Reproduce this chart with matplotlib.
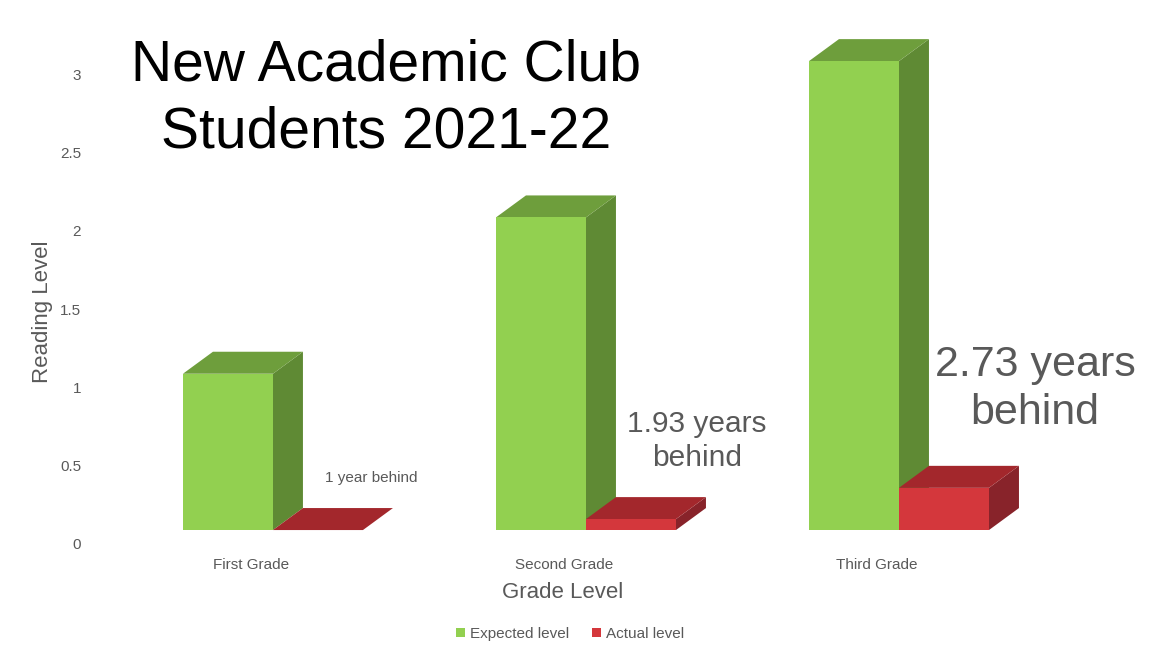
import matplotlib
matplotlib.use("Agg")
import matplotlib.pyplot as plt
from matplotlib.patches import Polygon, Patch

plt.rcParams['font.family'] = ['Liberation Sans', 'DejaVu Sans']

# data
grades = ["First Grade", "Second Grade", "Third Grade"]
expected = [1.0, 2.0, 3.0]
actual = [0.0, 0.07, 0.27]
gap_notes = ["1 year behind", "1.93 years\nbehind", "2.73 years\nbehind"]
gap_sizes = [11, 21.5, 31]
y_ticks = [0, 0.5, 1, 1.5, 2, 2.5, 3]

GRAY = "#595959"
GREEN = ("#92D050", "#6E9E3C", "#5F8A34")   # front, top, side
RED = ("#D4373C", "#A3272C", "#88232A")

W, H = 1150, 654
fig = plt.figure(figsize=(W / 100, H / 100), dpi=100)
ax = fig.add_axes([0, 0, 1, 1])
x0, x1 = -0.872, 2.802
y0, y1 = -0.697, 3.487
ax.set_xlim(x0, x1)
ax.set_ylim(y0, y1)
ax.axis("off")

sx = W / (x1 - x0)
sy = H / (y1 - y0)


def px(dx, dy):
    # pixel offsets -> data units
    return dx / sx, dy / sy


floor = px(0, 15)[1]
ddx, ddy = px(30, 22)
bw = px(90, 0)[0]


def box(xl, h, cols):
    b = floor
    front, top, side = cols
    if h > 0:
        ax.add_patch(Polygon([(xl + bw, b), (xl + bw + ddx, b + ddy),
                              (xl + bw + ddx, b + h + ddy), (xl + bw, b + h)],
                             closed=True, fc=side, ec="none"))
    ax.add_patch(Polygon([(xl, b + h), (xl + bw, b + h), (xl + bw + ddx, b + h + ddy),
                          (xl + ddx, b + h + ddy)], closed=True, fc=top, ec="none"))
    if h > 0:
        ax.add_patch(Polygon([(xl, b), (xl + bw, b), (xl + bw, b + h), (xl, b + h)],
                             closed=True, fc=front, ec="none"))


for i, g in enumerate(grades):
    box(i - bw, expected[i], GREEN)
    box(i, actual[i], RED)
    ax.text(i - px(22, 0)[0], -0.128, g, ha="center", va="center",
            fontsize=11, color=GRAY)

# gap annotations
ax.text(0 + px(98, 0)[0], (545 - 478) / sy, gap_notes[0], ha="center", va="center",
        fontsize=gap_sizes[0], color=GRAY)
ax.text(1 + px(111, 0)[0], (545 - 441) / sy, gap_notes[1], ha="center", va="center",
        fontsize=gap_sizes[1], color=GRAY, linespacing=1.3)
ax.text(2 + px(136, 0)[0], (545 - 389) / sy, gap_notes[2], ha="center", va="center",
        fontsize=gap_sizes[2], color=GRAY, linespacing=1.25)

# y axis labels
for t in y_ticks:
    ax.text(x0 + 81 / sx, t, f"{t:g}", ha="right", va="center", fontsize=11, color=GRAY)
ax.text(x0 + 42 / sx, (545 - 312) / sy, "Reading Level", rotation=90,
        ha="center", va="center", fontsize=16, color=GRAY)
ax.text(x0 + 563 / sx, (545 - 592) / sy, "Grade Level", ha="center", va="center",
        fontsize=16, color=GRAY)

ax.text(x0 + 386 / sx, (545 - 99) / sy, "New Academic Club\nStudents 2021-22",
        ha="center", va="center", fontsize=41, color="black", linespacing=1.3)

handles = [Patch(fc=GREEN[0], label="Expected level"),
           Patch(fc=RED[0], label="Actual level")]
fig.legend(handles=handles, loc="center", bbox_to_anchor=(570 / W, 1 - 634 / H),
           ncol=2, frameon=False, fontsize=11, labelcolor=GRAY,
           handlelength=0.6, handleheight=0.6, handletextpad=0.3, columnspacing=1.5)

fig.savefig("out.png", dpi=100)
